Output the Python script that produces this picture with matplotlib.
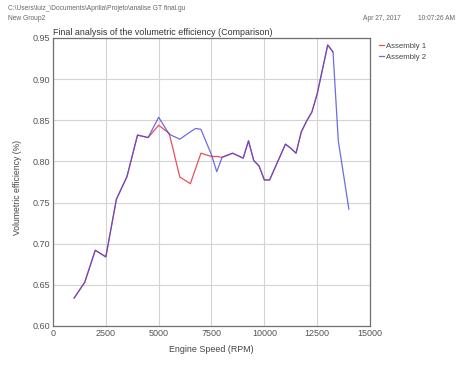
import matplotlib
matplotlib.use("Agg")
import matplotlib.pyplot as plt

plt.rcParams['font.family'] = ['Liberation Sans', 'DejaVu Sans']

rpm_a1 = [1000, 1500, 2000, 2500, 3000, 3500, 4000, 4500, 5000, 5500, 6000, 6500,
          7000, 7500, 7750, 8000, 8500, 9000, 9250, 9500, 9750, 10000, 10250,
          11000, 11250, 11500, 11750, 12000, 12250, 12500, 13000, 13250]
ve_a1 = [0.634, 0.653, 0.692, 0.684, 0.754, 0.7815, 0.832, 0.829, 0.844, 0.834, 0.781, 0.773,
         0.810, 0.806, 0.806, 0.805, 0.810, 0.804, 0.825, 0.801, 0.7945, 0.7775, 0.7775,
         0.821, 0.816, 0.810, 0.836, 0.849, 0.860, 0.882, 0.9415, 0.933]

rpm_a2 = [1000, 1500, 2000, 2500, 3000, 3500, 4000, 4500, 5000, 5500, 6000, 6500, 6750,
          7000, 7500, 7750, 8000, 8500, 9000, 9250, 9500, 9750, 10000, 10250,
          11000, 11250, 11500, 11750, 12000, 12250, 12500, 13000, 13250, 13500, 14000]
ve_a2 = [0.634, 0.653, 0.692, 0.684, 0.754, 0.7815, 0.832, 0.829, 0.8536, 0.833, 0.827, 0.836, 0.840,
         0.839, 0.808, 0.7875, 0.805, 0.810, 0.804, 0.825, 0.801, 0.7945, 0.7775, 0.7775,
         0.821, 0.816, 0.810, 0.836, 0.849, 0.860, 0.882, 0.9415, 0.933, 0.825, 0.742]

xticks = [0, 2500, 5000, 7500, 10000, 12500, 15000]
yticks = [0.60, 0.65, 0.70, 0.75, 0.80, 0.85, 0.90, 0.95]

fig = plt.figure(figsize=(4.74, 3.78), dpi=100)
ax = fig.add_axes([0.1118, 0.1376, 0.6688, 0.7619])

ax.plot(rpm_a1, ve_a1, color='#e8505e', lw=0.9, label='Assembly 1')
ax.plot(rpm_a2, ve_a2, color='#4848d8', lw=0.9, alpha=0.8, label='Assembly 2')

ax.set_xlim(0, 15000)
ax.set_ylim(0.60, 0.95)
ax.set_xticks(xticks)
ax.set_xticklabels([str(v) for v in xticks])
ax.set_yticks(yticks)
ax.set_yticklabels([f"{v:.2f}" for v in yticks])
ax.grid(True, color='#d4d4d4', lw=0.8)
ax.set_axisbelow(True)
ax.tick_params(length=0, labelsize=6.5, colors='#555555', pad=2)
for s in ax.spines.values():
    s.set_color('#707070')
    s.set_linewidth(0.9)

ax.set_xlabel('Engine Speed (RPM)', fontsize=6.4, color='#444444', labelpad=5)
ax.set_ylabel('Volumetric efficiency (%)', fontsize=6.2, color='#444444')
ax.yaxis.set_label_coords(-0.098, 0.48)

ax.text(0.0, 1.005, 'Final analysis of the volumetric efficiency (Comparison)',
        transform=ax.transAxes, ha='left', va='bottom', fontsize=6.4, color='#333333')

fig.text(8/474, 1 - 9/378, r'C:\Users\luiz_\Documents\Aprilia\Projeto\analise GT final.gu',
         ha='left', va='center', fontsize=4.8, color='#666666')
fig.text(8/474, 1 - 19/378, 'New Group2', ha='left', va='center', fontsize=4.8, color='#666666')
fig.text(363/474, 1 - 19/378, 'Apr 27, 2017', ha='left', va='center', fontsize=4.8, color='#666666')
fig.text(418/474, 1 - 19/378, '10:07:26 AM', ha='left', va='center', fontsize=4.8, color='#666666')

leg = ax.legend(loc='upper left', bbox_to_anchor=(1.018, 0.995), frameon=False,
                fontsize=5.6, handlelength=0.7, handletextpad=0.2, borderaxespad=0.0,
                labelspacing=0.45, labelcolor='#444444')

fig.savefig('out.png', dpi=100, facecolor='white')
